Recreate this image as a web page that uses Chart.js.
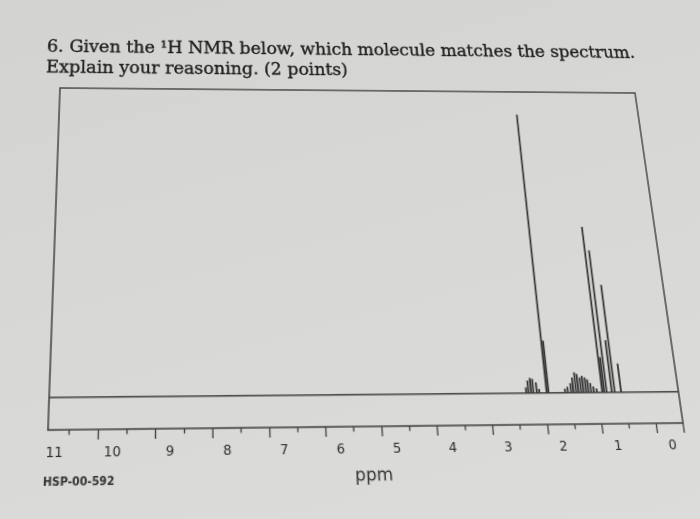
<!DOCTYPE html>
<html>
<head>
<meta charset="utf-8">
<script src="https://cdn.jsdelivr.net/npm/chart.js@4.4.0/dist/chart.umd.min.js"></script>
<style>
  html, body { margin: 0; padding: 0; width: 700px; height: 519px; overflow: hidden; }
  body { background: linear-gradient(165deg, #d3d3d1 0%, #d8d8d6 55%, #dcdcdb 100%); }
  #sheet { position: absolute; left: 0; top: 0; width: 700px; height: 519px; transform-origin: 0 0; }
  #sheet canvas { position: absolute; left: 0; top: 0; }
  .q { position: absolute; left: 39px; font-family: 'DejaVu Serif', serif; font-size: 17px;
       line-height: 1; color: #1f1f1f; white-space: nowrap; -webkit-text-stroke: 0.4px #1f1f1f; }
  #code { position: absolute; left: 51px; top: 467px; font-family: 'DejaVu Sans Condensed', 'DejaVu Sans', sans-serif;
          font-weight: bold; font-size: 11px; line-height: 1; color: #333; white-space: nowrap; }
</style>
</head>
<body>
<div id="sheet">
  <div class="q" id="q1">6. Given the ¹H NMR below, which molecule matches the spectrum.</div>
  <div class="q" id="q2">Explain your reasoning. (2 points)</div>
  <canvas id="nmr" width="700" height="519"></canvas>
  <div id="code">HSP-00-592</div>
</div>
<script>
// axis
const ppmMajor = [11, 10, 9, 8, 7, 6, 5, 4, 3, 2, 1, 0];
const ppmMinor = [10.5, 9.5, 8.5, 7.5, 6.5, 5.5, 4.5, 3.5, 2.5, 1.5, 0.5];
const ppmRange = [-0.25, 11.12];
const baselineLevel = 0;

// peaks (ppm, height as % of the frame above baseline)
const peakPpm = [2.576, 2.535, 2.486, 2.444, 2.382, 2.335, 2.200, 2.165,
  1.857, 1.807, 1.746, 1.704, 1.654, 1.611, 1.561, 1.518, 1.469, 1.426, 1.376, 1.326, 1.270,
  1.170, 1.135, 1.090, 0.994, 0.940, 0.820];
const peakHeight = [1.6, 3.7, 4.5, 4.2, 3.1, 1.1, 91.7, 16,
  1.1, 1.7, 2.8, 4.5, 6.1, 5.6, 4.5, 5.0, 4.5, 3.9, 2.8, 1.7, 1.1,
  52.8, 10.7, 45, 16, 33.7, 8.7];

// where the plot frame corners sit in the photo (tl, tr, br, bl)
const frameQuad = [[60, 88], [635, 93], [683, 423], [48, 430]];

Chart.defaults.font.family = "'DejaVu Sans', sans-serif";

const framePlugin = {
  id: 'frame',
  beforeDatasetsDraw(chart) {
    const { ctx, chartArea: a } = chart;
    ctx.save();
    ctx.strokeStyle = '#444';
    ctx.lineWidth = 1.5;
    ctx.strokeRect(a.left, a.top, a.right - a.left, a.bottom - a.top);
    ctx.restore();
  }
};

const chart = new Chart(document.getElementById('nmr'), {
  type: 'bar',
  data: {
    datasets: [
      {
        type: 'line',
        data: [{ x: ppmRange[1], y: baselineLevel }, { x: ppmRange[0], y: baselineLevel }],
        borderColor: '#3a3a3a',
        borderWidth: 1.4,
        pointRadius: 0
      },
      {
        type: 'bar',
        data: peakPpm.map((p, i) => ({ x: p, y: peakHeight[i] })),
        backgroundColor: '#333',
        barThickness: 1.1,
        grouped: false
      }
    ]
  },
  options: {
    responsive: false,
    animation: false,
    devicePixelRatio: 2,
    layout: { padding: { left: 54, right: 40, top: 90, bottom: 0 } },
    plugins: { legend: { display: false }, tooltip: { enabled: false } },
    scales: {
      x: {
        type: 'linear',
        reverse: true,
        offset: false,
        min: ppmRange[0],
        max: ppmRange[1],
        afterBuildTicks: s => {
          s.ticks = ppmMajor.concat(ppmMinor).sort((p, q) => q - p).map(v => ({ value: v }));
        },
        afterFit: s => { s.height = 92; },
        ticks: {
          autoSkip: false,
          maxRotation: 0,
          padding: 4,
          color: '#2e2e2e',
          font: { size: 12.5 },
          callback: v => ppmMajor.includes(v) ? String(v) : ''
        },
        grid: {
          drawOnChartArea: false,
          tickLength: 9,
          tickWidth: 1.3,
          tickColor: '#444',
          tickBorderDash: ctx => (ctx.tick && !ppmMajor.includes(ctx.tick.value)) ? [4.5, 30] : []
        },
        border: { display: false },
        title: { display: true, text: 'ppm', color: '#333', font: { size: 16 }, padding: { top: 0, bottom: 38 } }
      },
      y: { display: false, min: -9.5, max: 100 }
    }
  },
  plugins: [framePlugin]
});

// fit the question text and place it by baseline
const q1 = document.getElementById('q1');
const q2 = document.getElementById('q2');
const fs = 17 * 627 / q1.offsetWidth;
[q1, q2].forEach(el => { el.style.fontSize = fs + 'px'; });
q1.style.top = (50.4 - 0.846 * fs) + 'px';
q2.style.top = (73.7 - 0.846 * fs) + 'px';

// photo perspective: map the chart frame onto the photographed quad
function quadMatrix(q, r) {
  const [[x0, y0], [x1, y1], [x2, y2], [x3, y3]] = q;
  const sx = x0 - x1 + x2 - x3, sy = y0 - y1 + y2 - y3;
  const dx1 = x1 - x2, dx2 = x3 - x2, dy1 = y1 - y2, dy2 = y3 - y2;
  const den = dx1 * dy2 - dx2 * dy1;
  const g = (sx * dy2 - dx2 * sy) / den;
  const h = (dx1 * sy - sx * dy1) / den;
  const a = x1 - x0 + g * x1, b = x3 - x0 + h * x3, c = x0;
  const d = y1 - y0 + g * y1, e = y3 - y0 + h * y3, f = y0;
  const A = a / r.w, B = b / r.h, C = c - a * r.x / r.w - b * r.y / r.h;
  const D = d / r.w, E = e / r.h, F = f - d * r.x / r.w - e * r.y / r.h;
  const G = g / r.w, H = h / r.h, I = 1 - g * r.x / r.w - h * r.y / r.h;
  return `matrix3d(${A},${D},0,${G},${B},${E},0,${H},0,0,1,0,${C},${F},0,${I})`;
}
const ca = chart.chartArea;
document.getElementById('sheet').style.transform =
  quadMatrix(frameQuad, { x: ca.left, y: ca.top, w: ca.right - ca.left, h: ca.bottom - ca.top });
</script>
</body>
</html>
